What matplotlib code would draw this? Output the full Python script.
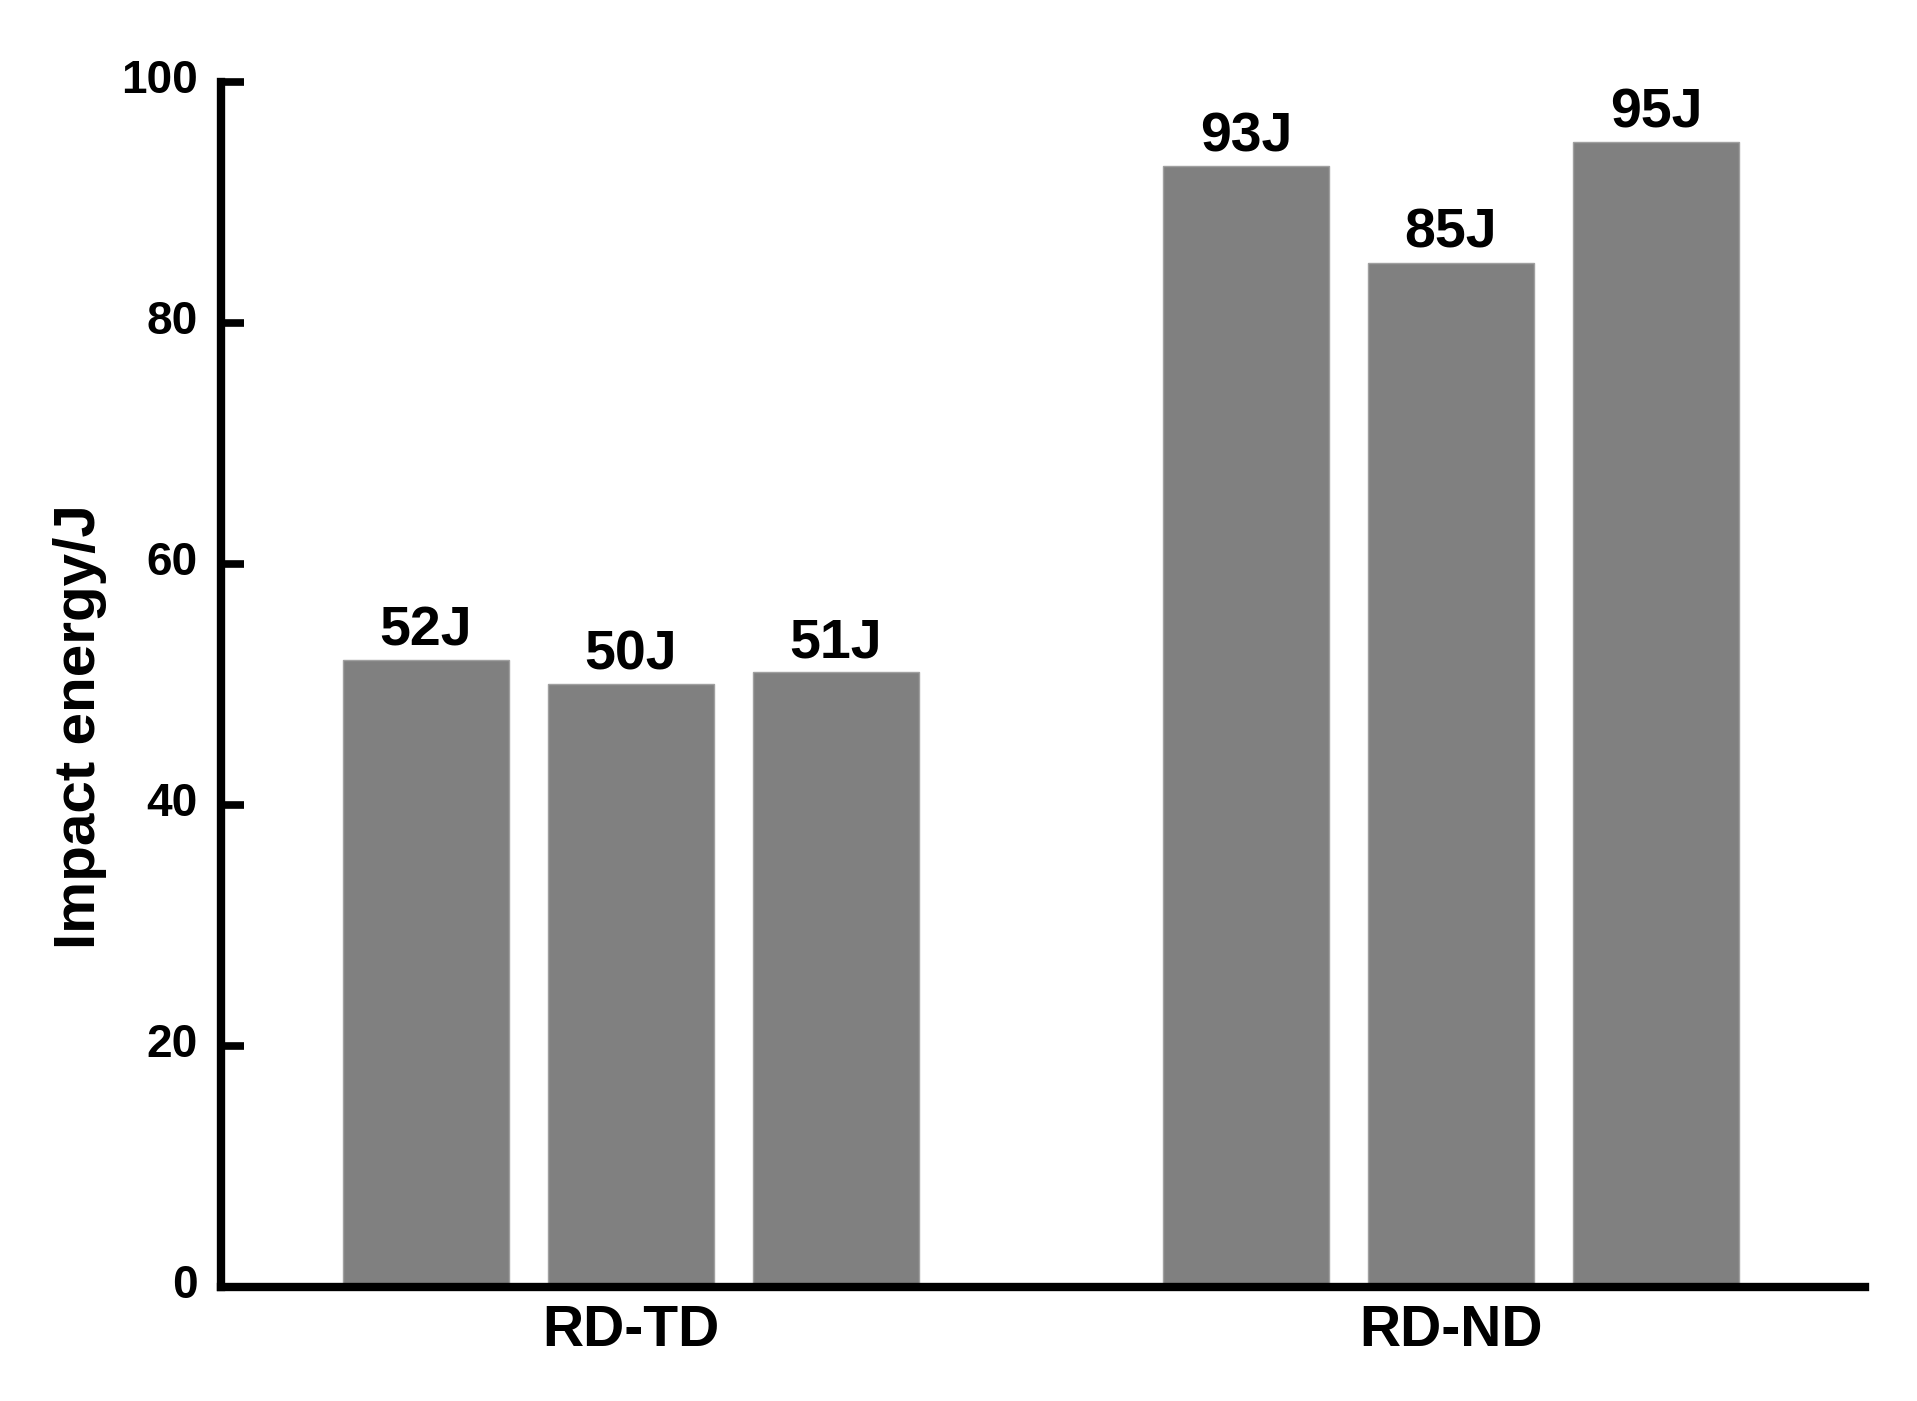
import matplotlib
matplotlib.use("Agg")
import matplotlib.pyplot as plt
import matplotlib.transforms as mtransforms

plt.rcParams['font.family'] = ['Liberation Sans', 'DejaVu Sans']

groups = ["RD-TD", "RD-ND"]
group_pos = [1, 5]
bar_pos = [0, 1, 2, 4, 5, 6]
values = [52, 50, 51, 93, 85, 95]
labels = ["52J", "50J", "51J", "93J", "85J", "95J"]
yticks = [0, 20, 40, 60, 80, 100]

fig = plt.figure(figsize=(19.17, 14.01), dpi=100)
ax = fig.add_axes([0.1153, 0.0814, 0.8576, 0.8601])

ax.bar(bar_pos, values, width=0.81, color="#808080", edgecolor="#a0a0a0", linewidth=1)
for x, v, t in zip(bar_pos, values, labels):
    ax.annotate(t, (x, v), xytext=(0, 2), textcoords="offset points",
                ha="center", va="bottom", fontsize=40, fontweight="bold")

ax.set_xlim(-1, 7.02)
ax.set_ylim(0, 100)
ax.set_yticks(yticks)
ax.set_yticklabels([str(t) for t in yticks], fontsize=33, fontweight="bold")
ax.set_xticks(group_pos)
ax.set_xticklabels(groups, fontsize=41, fontweight="bold")
ax.tick_params(axis="y", direction="in", length=16.5, width=5.5, pad=17)
ax.tick_params(axis="x", length=0, pad=12)

shift = mtransforms.ScaledTranslation(0, 4 / 72, fig.dpi_scale_trans)
for lbl in ax.get_yticklabels():
    lbl.set_transform(lbl.get_transform() + shift)

for s in ["top", "right"]:
    ax.spines[s].set_visible(False)
for s in ["left", "bottom"]:
    ax.spines[s].set_linewidth(6)
ax.spines["left"].set_capstyle("projecting")

ax.set_ylabel("Impact energy/J", fontsize=42, fontweight="bold", labelpad=10)
ax.yaxis.label.set_y(0.465)

fig.savefig("out.png", dpi=100)
